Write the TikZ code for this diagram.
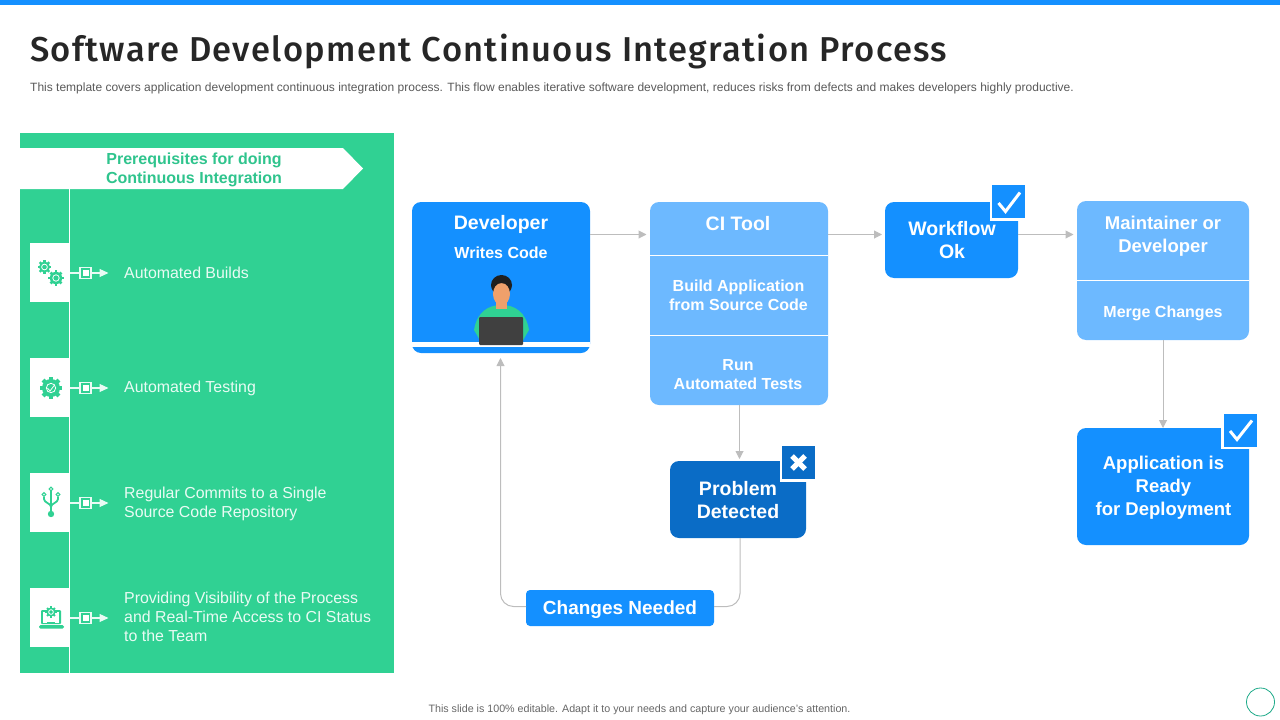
\documentclass[tikz,border=0pt]{standalone}
\usepackage{fontspec}
\setmainfont{Liberation Sans}
\newfontfamily\titlefont[LetterSpace=3.9]{Fira Sans Medium}
\usetikzlibrary{arrows.meta,calc}
\definecolor{topblue}{HTML}{1490FF}
\definecolor{midblue}{HTML}{1490FF}
\definecolor{lightblue}{HTML}{6DB9FF}
\definecolor{darkblue}{HTML}{0A6CC6}
\definecolor{panelgreen}{HTML}{30D193}
\definecolor{textgreen}{HTML}{2FC48D}
\definecolor{conngrey}{HTML}{BDBDBD}
\definecolor{softwhite}{HTML}{E9FBF4}
\definecolor{skin}{HTML}{EFA06B}
\tikzset{
 box/.style={anchor=north west,rounded corners=9pt,inner sep=0pt,outer sep=0pt},
 boxtext/.style={text=white,align=center,font=\fontsize{18}{23}\selectfont\bfseries,inner sep=0pt},
 subtext/.style={text=white,align=center,font=\fontsize{16}{19}\selectfont\bfseries,inner sep=0pt},
 conn/.style={draw=conngrey,line width=1pt,-{Triangle[length=8pt,width=8pt]}},
 plainconn/.style={draw=conngrey,line width=1pt},
 sep/.style={draw=white,line width=1pt},
 badge/.style={anchor=north west,draw=white,line width=2.5pt,inner sep=0pt,outer sep=0pt,minimum width=35.5pt,minimum height=35.5pt},
 itemtext/.style={anchor=west,text=softwhite,align=left,font=\fontsize{15.9}{19}\selectfont,inner sep=0pt},
 iconbox/.style={anchor=north west,fill=white,inner sep=0pt,outer sep=0pt,minimum width=39.5pt,minimum height=59pt},
 minibox/.style={draw=softwhite,line width=1.2pt,inner sep=0pt,minimum width=11pt,minimum height=11pt,outer sep=0pt},
 minitip/.style={draw=softwhite,line width=1.1pt,-{Triangle[length=9pt,width=8pt]}},
}
\newcommand{\gearicon}[3]{% x y r
 \foreach \a in {0,45,...,315}{\fill[panelgreen,shift={(#1,#2)},rotate=\a] (-#3*0.22,0) rectangle (#3*0.22,#3*1.25);}
 \fill[panelgreen] (#1,#2) circle (#3);
 \draw[white,line width=0.8pt] (#1,#2) circle (#3*0.52);
}
\begin{document}
\begin{tikzpicture}[x=1pt,y=-1pt]
\useasboundingbox (0,0) rectangle (1280,720);
\fill[topblue] (0,0) rectangle (1280,5);
\node[anchor=west,inner sep=0pt,text=black!85,font=\titlefont\fontsize{34.5}{40}\selectfont] (title) at (30,52) {Software Development Continuous Integration Process};
\node[anchor=west,inner sep=0pt,text=black!65,font=\fontsize{12}{14}\selectfont] (subtitle) at (30,88.5) {This template covers application development continuous integration process. This flow enables iterative software development, reduces risks from defects and makes developers highly productive.};
% left panel
\fill[panelgreen] (20,133) rectangle (394,673);
\fill[white] (20,148) -- (343,148) -- (363,168.5) -- (343,189) -- (20,189) -- cycle;
\draw[white,line width=1.2pt] (69.5,189) -- (69.5,673);
\node[text=textgreen,align=center,inner sep=0pt,font=\fontsize{16}{19}\selectfont\bfseries] (pre) at (194,170) {Prerequisites for doing\\Continuous Integration};
% items
\foreach \n/\y in {a/273,b/388,c/503,d/618}{
 \node[iconbox] (icon\n) at (30,\y-30) {};
 \node[minibox] (mini\n) at (85.5,\y) {};
 \fill[white] (82.5,\y-3) rectangle (88.5,\y+3);
 \draw[draw=softwhite,line width=1.1pt] (icon\n.east |- mini\n) -- (mini\n.west);
 \coordinate (tip\n) at (108.5,\y);
 \draw[minitip] (mini\n.east) -- (tip\n);
}
\node[itemtext] (ta) at (124,273.3) {Automated Builds};
\node[itemtext] (tb) at (124,388.3) {Automated Testing};
\node[itemtext] (tc) at (124,503.5) {Regular Commits to a Single\\Source Code Repository};
\node[itemtext] (td) at (124,617.3) {Providing Visibility of the Process\\and Real-Time Access to CI Status\\to the Team};
% gear icons
\gearicon{44.5}{267}{5.5}
\gearicon{56}{278}{6.2}
\gearicon{51}{388}{9}
\draw[white,line width=0.8pt] (47.5,388) -- (50,391) -- (54.5,385);
% usb
\begin{scope}[panelgreen,line width=1.8pt]
 \draw (51,490) -- (51,511);
 \draw (44,497) -- (44,499) .. controls (44,503) and (51,503) .. (51,507);
 \draw (58,497) -- (58,499) .. controls (58,503) and (51,503) .. (51,507);
 \fill (51,514) circle (3.2);
 \draw[line width=1pt,fill=white] (51,489) circle (1.8);
 \draw[line width=1pt,fill=white] (44,494.5) circle (1.8);
 \draw[line width=1pt,fill=white] (58,494.5) circle (1.8);
\end{scope}
% laptop
\fill[panelgreen,rounded corners=1pt] (41,610) rectangle (61,624);
\fill[panelgreen,rounded corners=1.5pt] (39,625) rectangle (64,628.5);
\fill[white] (43,612) rectangle (59,623);
\gearicon{51}{612}{4.5}
\fill[panelgreen] (47,622) rectangle (55,623.5);
% flow boxes
\fill[midblue,rounded corners=9pt] (412,202) rectangle (590,353);
\node[box,minimum width=178pt,minimum height=151pt] (dev) at (412,202) {};
\fill[panelgreen] (474,330) .. controls (477,312) and (488,305) .. (501.5,305) .. controls (515,305) and (526,312) .. (529,330) -- (522,342) -- (481,342) -- cycle;
\fill[skin] (496,298) rectangle (507,309);
\fill[black!88] (501.5,285) ellipse (10.5 and 10);
\fill[skin] (501.5,294) ellipse (8.5 and 11);
\fill[black!88] (493,291) .. controls (493,284) and (497,283) .. (501.5,283) .. controls (506,283) and (510,284) .. (510,291) -- (512,285) -- (501,277) -- (491,285) -- cycle;
\fill[white] (412,342) rectangle (590,347);
\fill[black!75,rounded corners=1pt] (479,317) rectangle (523,345);
\node[subtext,font=\fontsize{19.5}{23}\selectfont\bfseries] (devt) at (501,224.5) {Developer};
\node[subtext] (devs) at (501,253) {Writes Code};

\node[box,fill=lightblue,minimum width=178pt,minimum height=203pt] (ci) at (650,202) {};
\draw[sep] (650,255) -- (828,255);
\draw[sep] (650,335) -- (828,335);
\node[subtext,font=\fontsize{19.5}{23}\selectfont\bfseries] (cit) at (738,223.7) {CI Tool};
\node[subtext] (cia) at (738.5,295) {Build Application\\from Source Code};
\node[subtext] (cib) at (738,375) {Run\\Automated Tests};

\node[box,fill=midblue,minimum width=133pt,minimum height=76pt] (wf) at (885,202) {};
\node[boxtext,font=\fontsize{19.5}{23}\selectfont\bfseries] (wft) at (952,240) {Workflow\\Ok};
\node[badge,fill=midblue] (wfb) at (990.75,183.75) {};
\draw[white,line width=3pt] (998.5,203) -- (1005.5,211.5) -- (1020,192.5);

\node[box,fill=lightblue,minimum width=172pt,minimum height=139pt] (mt) at (1077,201) {};
\draw[sep] (1077,280.5) -- (1249,280.5);
\node[boxtext,font=\fontsize{18.5}{23}\selectfont\bfseries] (mtt) at (1163,236.5) {Maintainer or\\Developer};
\node[subtext] (mts) at (1163,313) {Merge Changes};

\node[box,fill=midblue,minimum width=172pt,minimum height=117pt] (app) at (1077,428) {};
\node[boxtext,font=\fontsize{18.5}{23}\selectfont\bfseries] (appt) at (1163.5,487.5) {Application is\\Ready\\for Deployment};
\node[badge,fill=midblue] (appb) at (1222.5,412.5) {};
\draw[white,line width=3pt] (1230,431) -- (1237,439.5) -- (1252,420.5);

\node[box,fill=darkblue,minimum width=136pt,minimum height=77pt] (pb) at (670,461) {};
\node[boxtext,font=\fontsize{19.5}{23}\selectfont\bfseries] (pbt) at (738,500.5) {Problem\\Detected};
\node[badge,fill=darkblue] (pbb) at (780.75,444.75) {};
\draw[white,line width=5pt] (792,456) -- (805,469);
\draw[white,line width=5pt] (805,456) -- (792,469);

\node[box,fill=midblue,rounded corners=4pt,minimum width=188pt,minimum height=36pt] (ch) at (526,590) {};
\node[boxtext,font=\fontsize{19}{23}\selectfont\bfseries] (cht) at (620,610) {Changes Needed};
% connectors
\coordinate (row) at (0,234.5);
\coordinate (jp) at (740,606.5);
\coordinate (jq) at (500.5,606.5);
\coordinate (jr) at (739.5,0);
\draw[conn,shorten >=3.5pt] (dev.east |- row) -- (ci.west |- row);
\draw[conn,shorten >=3pt] (ci.east |- row) -- (wf.west |- row);
\draw[conn,shorten >=3.5pt] (wf.east |- row) -- (mt.west |- row);
\draw[conn] (mt.south -| mts) -- (app.north -| mts);
\draw[conn,shorten >=2pt] (ci.south -| jr) -- (pb.north -| jr);
\draw[plainconn,rounded corners=13pt] (pb.south -| jp) -- (jp) -- (ch.east |- jp);
\draw[conn,rounded corners=13pt,shorten >=5pt] (ch.west |- jq) -- (jq) -- (dev.south -| jq);
% footer
\node[inner sep=0pt,text=black!60,font=\fontsize{10.7}{12}\selectfont] (foot) at (639.5,709.5) {This slide is 100\% editable. Adapt it to your needs and capture your audience's attention.};
\node[circle,draw=textgreen!60!teal,line width=0.8pt,minimum size=28pt,inner sep=0pt] (ring) at (1260.5,702) {};
\end{tikzpicture}
\end{document}
